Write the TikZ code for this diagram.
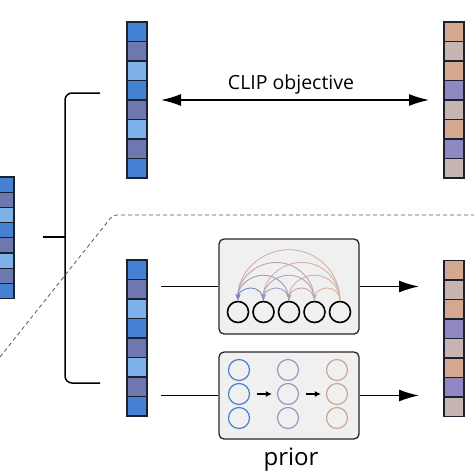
\documentclass[tikz,border=0pt]{standalone}
\usepackage{fontspec}
\setsansfont{Open Sans}
\usetikzlibrary{arrows.meta}

\definecolor{embblue}{HTML}{4581D2}
\definecolor{embslate}{HTML}{6E78AE}
\definecolor{emblight}{HTML}{7EB0EA}
\definecolor{embtan}{HTML}{D3A88E}
\definecolor{embgrey}{HTML}{C6B5B2}
\definecolor{embpurple}{HTML}{8F88C2}
\definecolor{cellline}{HTML}{1A2230}
\definecolor{panelgray}{HTML}{F0F0F0}
\definecolor{arcblue}{HTML}{7585C8}
\definecolor{arcslate}{HTML}{A29BC6}
\definecolor{arcmauve}{HTML}{BFA3B3}
\definecolor{arctan}{HTML}{D4B2A0}
\definecolor{nblue}{HTML}{4A7FCB}
\definecolor{nslate}{HTML}{9A98C0}
\definecolor{ntan}{HTML}{CCA898}

\tikzset{
    cell/.style={draw=cellline, line width=1.3pt, minimum width=20pt, minimum height=19.5pt, inner sep=0pt},
    smallcell/.style={cell, minimum width=18pt, minimum height=15.2pt},
    column/.style={minimum width=20pt, minimum height=156pt, inner sep=0pt, outer sep=0pt},
    panel/.style={draw=black!85, line width=1.3pt, fill=panelgray, rounded corners=5pt, minimum width=140pt, inner sep=0pt},
    link/.style={line width=1.5pt},
    bigarrow/.style={line width=1.5pt, -{Latex[length=20pt,width=12pt]}},
    tok/.style={circle, draw, line width=1.6pt, minimum size=21pt, inner sep=0pt},
    neuron/.style={circle, draw=#1, line width=1.2pt, minimum size=21pt, inner sep=0pt},
    attnarc/.style={draw=#1, line width=0.9pt, -{Latex[length=6pt,width=5pt]}},
    smallarrow/.style={line width=1.2pt, -{Latex[length=6pt,width=6pt]}},
    txt/.style={font=\fontsize{19.5}{22}\sffamily, inner sep=0pt},
}

\begin{document}
\begin{tikzpicture}[x=1pt, y=-1pt]
    \useasboundingbox (0,0) rectangle (474,474);

    % embeddings
    \foreach \c [count=\i] in {embblue,embslate,emblight,embblue,embslate,emblight,embslate,embblue} {
        \node[smallcell, fill=\c] (x\i) at (5, 169.4+15.2*\i) {};
        \node[cell, fill=\c] (zi\i) at (137, 12.25+19.5*\i) {};
        \node[cell, fill=\c] (zp\i) at (137, 250.25+19.5*\i) {};
    }
    \foreach \c [count=\i] in {embtan,embgrey,embtan,embpurple,embgrey,embtan,embpurple,embgrey} {
        \node[cell, fill=\c] (zt\i) at (454, 12.25+19.5*\i) {};
        \node[cell, fill=\c] (zq\i) at (454, 250.75+19.5*\i) {};
    }
    \node[column] (zimg) at (137, 100) {};
    \node[column] (ztxt) at (454, 100) {};
    \node[column] (zprior) at (137, 338.5) {};
    \node[column] (zout) at (454, 339.5) {};

    % bracket
    \coordinate (split) at (65, 237);
    \coordinate (btop) at (100, 93);
    \coordinate (bbot) at (100, 383);
    \draw[link] ([xshift=28pt]x1.east |- split) -- (split);
    \draw[link, rounded corners=7pt] (btop) -- (split |- btop) -- (split |- bbot) -- (bbot);

    % divider
    \draw[black!65, line width=0.8pt, dash pattern=on 4pt off 3pt, rounded corners=4pt] (0, 357) -- (113, 215) -- (474, 215);

    % CLIP
    \draw[bigarrow, {Latex[length=20pt,width=12pt]}-{Latex[length=20pt,width=12pt]}, shorten <=14pt, shorten >=15pt] (zimg.east) -- (ztxt.west);
    \node[txt] (clip) at (291, 84) {CLIP objective};

    % prior panels
    \node[panel, minimum height=95pt] (attn) at (289, 286.5) {};
    \node[panel, minimum height=87pt] (mlp) at (289, 395.5) {};
    \draw[link, shorten <=14pt] (zprior.east |- attn.west) -- (attn.west);
    \draw[link, shorten <=14pt] (zprior.east |- mlp.west) -- (mlp.west);
    \draw[bigarrow, shorten >=25pt] (attn.east) -- (zout.west |- attn.east);
    \draw[bigarrow, shorten >=25pt] (mlp.east) -- (zout.west |- mlp.east);

    % transformer
    \foreach \x [count=\i] in {238, 263.5, 289, 314.5, 340} {
        \node[tok] (k\i) at (\x, 312) {};
    }
    \foreach \j/\c in {5/arctan, 4/arcmauve, 3/arcslate, 2/arcblue} {
        \pgfmathtruncatemacro\jm{\j-1}
        \foreach \i in {1,...,\jm} {
            \pgfmathsetmacro\r{(\j-\i)*12.75}
            \draw[attnarc=\c] (k\j.north) arc[start angle=0, end angle=180, radius=\r pt];
        }
    }

    % diffusion
    \foreach \x/\c [count=\k] in {239/nblue, 288/nslate, 337/ntan} {
        \foreach \y [count=\m] in {370, 394, 418} {
            \node[neuron=\c] (n\k\m) at (\x, \y) {};
        }
    }
    \draw[smallarrow, shorten <=7pt, shorten >=5pt] (n12.east) -- (n22.west);
    \draw[smallarrow, shorten <=7pt, shorten >=5pt] (n22.east) -- (n32.west);
    \node[font=\fontsize{24}{26}\sffamily, inner sep=0pt] (priortxt) at (291, 460) {prior};
\end{tikzpicture}
\end{document}
